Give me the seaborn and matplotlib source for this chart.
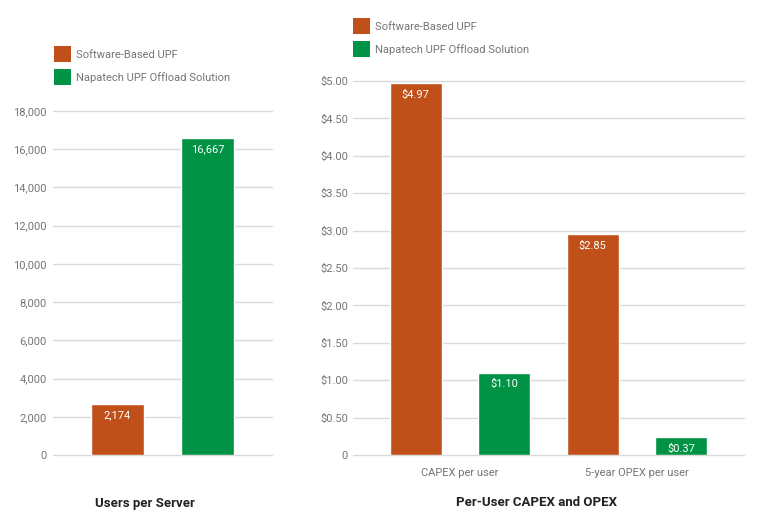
import pandas as pd
import numpy as np
import matplotlib.pyplot as plt
import seaborn as sns
from matplotlib.patches import Patch

# data
series = ['Software-Based UPF', 'Napatech UPF Offload Solution']
colors = ['#C0501A', '#009245']

users_group = ['Users per Server']
users_software = [2650]
users_napatech = [16600]
users_labels_software = ['2,174']
users_labels_napatech = ['16,667']
users_ticks = [0, 2000, 4000, 6000, 8000, 10000, 12000, 14000, 16000, 18000]
users_ticklabels = ['0', '2,000', '4,000', '6,000', '8,000', '10,000', '12,000', '14,000', '16,000', '18,000']

cost_groups = ['CAPEX per user', '5-year OPEX per user']
cost_software = [4.97, 2.95]
cost_napatech = [1.10, 0.24]
cost_labels_software = ['$4.97', '$2.85']
cost_labels_napatech = ['$1.10', '$0.37']
cost_ticks = [0, 0.5, 1.0, 1.5, 2.0, 2.5, 3.0, 3.5, 4.0, 4.5, 5.0]
cost_ticklabels = ['0', '$0.50', '$1.00', '$1.50', '$2.00', '$2.50', '$3.00', '$3.50', '$4.00', '$4.50', '$5.00']

sns.set_theme(style='white')
plt.rcParams['font.family'] = ['Roboto', 'DejaVu Sans']

gray = '#757575'
grid = '#dadada'

df_users = pd.DataFrame({
    'group': users_group * 2,
    'value': users_software + users_napatech,
    'series': [series[0]] * len(users_group) + [series[1]] * len(users_group),
})
df_cost = pd.DataFrame({
    'group': cost_groups * 2,
    'value': cost_software + cost_napatech,
    'series': [series[0]] * len(cost_groups) + [series[1]] * len(cost_groups),
})

fig = plt.figure(figsize=(7.68, 5.22), dpi=100)
ax1 = fig.add_axes([53 / 768, 67 / 522, 219 / 768, 344 / 522])
ax2 = fig.add_axes([353 / 768, 67 / 522, 391 / 768, 374 / 522])

def style(ax, df, ticks, ticklabels, top, lab_sw, lab_np):
    sns.barplot(data=df, x='group', y='value', hue='series', hue_order=series,
                palette=colors, width=1.0, gap=0.41, saturation=1, legend=False,
                ax=ax, zorder=3)
    for c, labs in zip(ax.containers, [lab_sw, lab_np]):
        texts = ax.bar_label(c, labels=labs, label_type='edge', padding=-4.5,
                             color='white', fontsize=8)
        for t in texts:
            t.set_va('top')
    ax.set_ylim(0, top)
    ax.set_yticks(ticks)
    ax.set_yticklabels(ticklabels)
    ax.set_xlabel('')
    ax.set_ylabel('')
    for s in ax.spines.values():
        s.set_visible(False)
    ax.yaxis.grid(True, color=grid, linewidth=1, zorder=0)
    ax.tick_params(axis='both', length=0, labelsize=8, labelcolor=gray)
    ax.set_axisbelow(True)
    for gl in ax.yaxis.get_gridlines():
        gl.set_clip_on(False)

style(ax1, df_users, users_ticks, users_ticklabels, 18000, users_labels_software, users_labels_napatech)
ax1.set_xlim(-0.608, 0.608)
ax1.tick_params(axis='x', labelbottom=False)
ax1.tick_params(axis='y', pad=4.5)

style(ax2, df_cost, cost_ticks, cost_ticklabels, 5.0, cost_labels_software, cost_labels_napatech)
ax2.set_xlim(-0.605, 1.605)
ax2.tick_params(axis='x', pad=9)
ax2.tick_params(axis='y', pad=3.6)

handles = [Patch(facecolor=c, edgecolor='none') for c in colors]
for x0, y0 in [(54, 46), (353, 18)]:
    fig.legend(handles, series, loc='upper left', bbox_to_anchor=(x0 / 768, 1 - y0 / 522),
               frameon=False, fontsize=8, labelcolor=gray, borderpad=0, borderaxespad=0,
               handlelength=1.55, handleheight=1.85, handletextpad=0.45, labelspacing=0.62)

fig.text(145 / 768, 1 - 503 / 522, 'Users per Server', ha='center', va='center',
         fontsize=9.5, fontweight='bold', color='#222222')
fig.text(536 / 768, 1 - 503 / 522, 'Per-User CAPEX and OPEX', ha='center', va='center',
         fontsize=9.5, fontweight='bold', color='#222222')

fig.savefig('out.png', dpi=100)
